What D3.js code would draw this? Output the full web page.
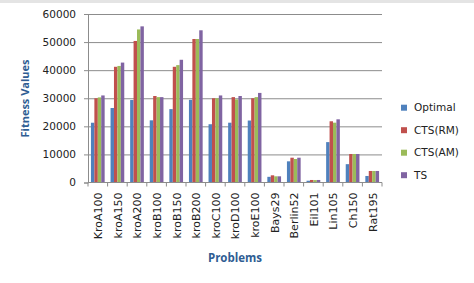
<!DOCTYPE html>
<html>
<head>
<meta charset="utf-8">
<script src="https://cdn.jsdelivr.net/npm/d3@7"></script>
<style>
  body { margin: 0; background: #fff; }
  svg { display: block; }
</style>
</head>
<body>
<div id="chart"></div>
<script>
const problems = ["KroA100", "kroA150", "kroA200", "kroB100", "kroB150", "kroB200", "kroC100", "kroD100", "kroE100", "Bays29", "Berlin52", "Eil101", "Lin105", "Ch150", "Rat195"];
const seriesNames = ["Optimal", "CTS(RM)", "CTS(AM)", "TS"];
const colors = ["#4F81BD", "#C0504D", "#9BBB59", "#8064A2"];

const optimal = [21282, 26524, 29368, 22141, 26130, 29437, 20749, 21294, 22068, 2020, 7542, 629, 14379, 6528, 2323];
const ctsRM   = [30000, 41200, 50400, 30800, 41200, 51100, 30000, 30400, 30000, 2560, 8830, 900, 21800, 10150, 4100];
const ctsAM   = [30300, 41500, 54500, 30400, 41800, 51100, 30000, 29600, 30400, 2200, 8370, 860, 21300, 10150, 4100];
const ts      = [31000, 42700, 55600, 30400, 43700, 54200, 31000, 30800, 31900, 2200, 8830, 900, 22500, 10150, 4100];
const yTicks = [0, 10000, 20000, 30000, 40000, 50000, 60000];

const seriesValues = [optimal, ctsRM, ctsAM, ts];

const W = 474, H = 283;
const margin = { top: 14, right: 92, bottom: 100.5, left: 88 };
const width = W - margin.left - margin.right;
const height = H - margin.top - margin.bottom;

const root = d3.select("#chart").append("svg").attr("width", W).attr("height", H);
root.append("rect").attr("width", W).attr("height", 3).attr("fill", "#e4e4e4");

const svg = root.append("g").attr("transform", `translate(${margin.left},${margin.top})`);

const x = d3.scaleBand().domain(problems).range([0, width]).padding(0);
const bw = x.bandwidth();
const x1 = d3.scaleBand().domain(seriesNames).range([bw * 0.15, bw * 0.85]).padding(0);
const y = d3.scaleLinear().domain([0, 60000]).range([height, 0]);

// Grid
svg.append("g")
  .call(d3.axisLeft(y).tickValues(yTicks.slice(1)).tickSize(-width).tickFormat(""))
  .call(g => g.select(".domain").remove())
  .call(g => g.selectAll("line").attr("stroke", "#8c8c8c").attr("stroke-width", 1));

// Bars
const groups = svg.selectAll(".grp").data(problems).enter().append("g")
  .attr("transform", d => `translate(${x(d)},0)`);

groups.selectAll("rect")
  .data((d, i) => seriesNames.map((s, j) => ({ s, j, v: seriesValues[j][i] })))
  .enter().append("rect")
  .attr("x", d => x1(d.s))
  .attr("width", x1.bandwidth())
  .attr("y", d => y(d.v))
  .attr("height", d => y(0) - y(d.v))
  .attr("fill", d => colors[d.j]);

// Y axis
svg.append("g")
  .call(d3.axisLeft(y).tickValues(yTicks).tickFormat(d3.format("d")).tickSize(4).tickPadding(8))
  .call(g => g.select(".domain").attr("stroke", "#8c8c8c"))
  .call(g => g.selectAll("line").attr("stroke", "#8c8c8c"))
  .call(g => g.selectAll("text").attr("font-family", "DejaVu Sans").attr("font-size", "10.5px").attr("fill", "#222"));

// X axis
const xAxis = svg.append("g").attr("transform", `translate(0,${height})`);
xAxis.append("line").attr("x1", 0).attr("x2", width).attr("stroke", "#8c8c8c");
xAxis.selectAll(".tk").data(problems.concat(["end"])).enter().append("line")
  .attr("x1", (d, i) => i * bw).attr("x2", (d, i) => i * bw)
  .attr("y1", 0).attr("y2", 4).attr("stroke", "#8c8c8c");
xAxis.selectAll(".lbl").data(problems).enter().append("text")
  .attr("transform", d => `translate(${x(d) + bw / 2 + 0.5},10) rotate(-90)`)
  .attr("text-anchor", "end")
  .attr("dy", "0.35em")
  .attr("font-family", "DejaVu Sans")
  .attr("font-size", "11px")
  .attr("fill", "#222")
  .text(d => d);

// Axis titles
root.append("text")
  .attr("transform", `translate(25,98.5) rotate(-90)`)
  .attr("text-anchor", "middle").attr("dy", "0.35em")
  .attr("font-family", "Open Sans").attr("font-weight", "bold").attr("font-size", "11px")
  .attr("fill", "#2f5d93")
  .text("Fitness Values");

root.append("text")
  .attr("x", 235).attr("y", 258).attr("dy", "0.35em")
  .attr("text-anchor", "middle")
  .attr("font-family", "Open Sans").attr("font-weight", "bold").attr("font-size", "11.5px")
  .attr("fill", "#2f5d93")
  .text("Problems");

// Legend
const legend = root.append("g").attr("transform", "translate(401,107.7)");
seriesNames.forEach((s, i) => {
  const g = legend.append("g").attr("transform", `translate(0,${i * 22.5})`);
  g.append("rect").attr("x", 0).attr("y", -3).attr("width", 6).attr("height", 6).attr("fill", colors[i]);
  g.append("text").attr("x", 13).attr("dy", "0.35em")
    .attr("font-family", "DejaVu Sans").attr("font-size", "10.5px").attr("fill", "#222")
    .text(s);
});
</script>
</body>
</html>
